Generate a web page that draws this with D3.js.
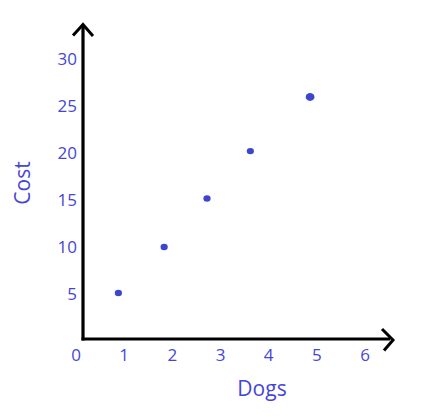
<!DOCTYPE html>
<html>
<head>
<meta charset="utf-8">
<script src="https://cdn.jsdelivr.net/npm/d3@7"></script>
<style>
  html, body { margin: 0; padding: 0; background: #fff; }
  svg { display: block; }
  text { font-family: "Open Sans", "Noto Sans", sans-serif; fill: #4646d6; }
</style>
</head>
<body>
<svg id="chart" width="442" height="417"></svg>
<script>
// Data
const dogs = [0.88, 1.83, 2.72, 3.62, 4.86];
const cost = [5.1, 10.0, 15.15, 20.2, 25.95];
const dotSizes = [3.6, 3.6, 3.6, 3.6, 4.4];
const xTicks = [0, 1, 2, 3, 4, 5, 6];
const yTicks = [5, 10, 15, 20, 25, 30];
const xTitle = "Dogs";
const yTitle = "Cost";

const svg = d3.select("#chart");
const axisX = 83, axisY = 339;

const x = d3.scaleLinear().domain([0, 6]).range([76, 365]);
const y = d3.scaleLinear().domain([0, 30]).range([341, 59]);

// axes lines
svg.append("line").attr("x1", axisX).attr("y1", 340.5).attr("x2", axisX).attr("y2", 27)
  .attr("stroke", "#000").attr("stroke-width", 3.2);
svg.append("line").attr("x1", 81.5).attr("y1", axisY).attr("x2", 390).attr("y2", axisY)
  .attr("stroke", "#000").attr("stroke-width", 3.2);
// arrowheads
svg.append("path").attr("d", `M73,35.5 L${axisX},24.5 L93,36`)
  .attr("fill", "none").attr("stroke", "#000").attr("stroke-width", 3);
svg.append("path").attr("d", `M382,329 L393,340 L384,350.5`)
  .attr("fill", "none").attr("stroke", "#000").attr("stroke-width", 3);

// tick labels
svg.append("g").selectAll("text").data(xTicks).join("text")
  .attr("x", d => x(d)).attr("y", 361)
  .attr("text-anchor", "middle").attr("font-size", 17)
  .text(d => d);
svg.append("g").selectAll("text").data(yTicks).join("text")
  .attr("x", 77).attr("y", d => y(d) + 6)
  .attr("text-anchor", "end").attr("font-size", 17)
  .text(d => d);

// titles
svg.append("text").attr("x", 262).attr("y", 396)
  .attr("text-anchor", "middle").attr("font-size", 21).text(xTitle);
svg.append("text").attr("transform", "translate(30,183) rotate(-90)")
  .attr("text-anchor", "middle").attr("font-size", 21).text(yTitle);

// points
svg.append("g").selectAll("ellipse").data(dogs).join("ellipse")
  .attr("cx", (d) => x(d)).attr("cy", (d, i) => y(cost[i]))
  .attr("rx", (d, i) => dotSizes[i]).attr("ry", (d, i) => dotSizes[i] * 0.9)
  .attr("fill", "#3c46cc");
</script>
</body>
</html>
